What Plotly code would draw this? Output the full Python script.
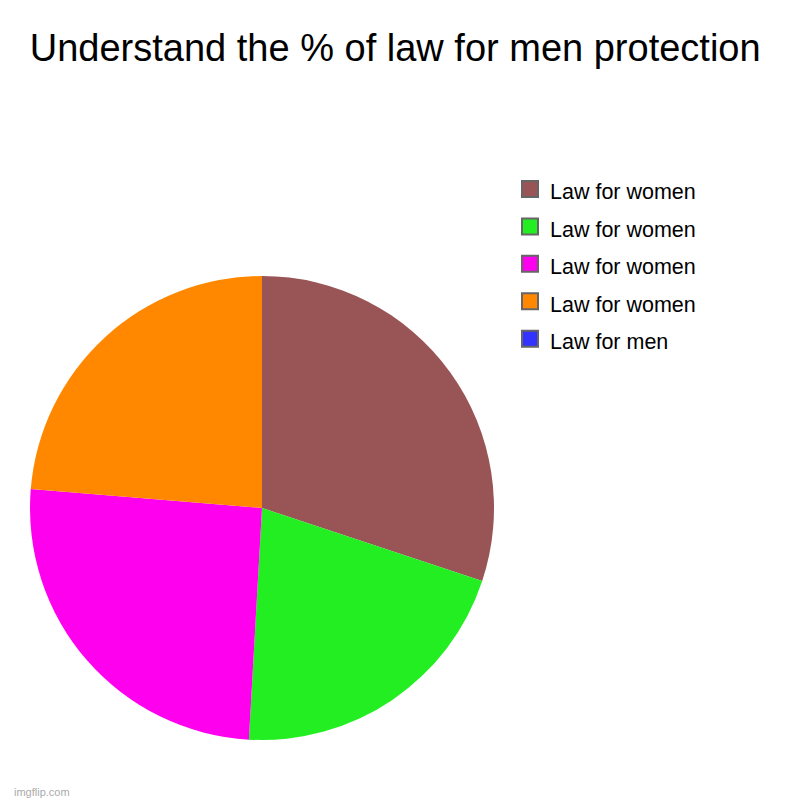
import plotly.graph_objects as go

title = "Understand the % of law for men protection"
names = ["Law for women", "Law for women", "Law for women", "Law for women", "Law for men"]
values = [30.1, 20.8, 25.4, 23.7, 0]
colors = ["#995555", "#22ee22", "#ff00ee", "#ff8800", "#3333ff"]

# pie labels need to be unique, so add invisible zero-width spaces
pie_labels = [n + "\u200b" * i for i, n in enumerate(names)]

fig = go.Figure()
fig.add_trace(go.Pie(
    labels=pie_labels,
    values=values,
    sort=False,
    direction="clockwise",
    rotation=0,
    textinfo="none",
    hoverinfo="label+percent",
    showlegend=False,
    marker=dict(colors=colors, line=dict(width=0)),
    domain=dict(x=[22/800, 486/800], y=[68/800, 532/800]),
))

# legend entries with bordered square swatches
for n, c in zip(names, colors):
    fig.add_trace(go.Scatter(
        x=[None], y=[None], mode="markers", name="<span style='font-size:21.5px'>%s</span>" % n,
        marker=dict(symbol="square", size=22, color=c, line=dict(color="#666666", width=2)),
        hoverinfo="skip",
    ))

fig.update_layout(
    width=800, height=800,
    margin=dict(l=0, r=0, t=0, b=0),
    paper_bgcolor="white", plot_bgcolor="white",
    font=dict(family="Arial, Liberation Sans", color="black"),
    xaxis=dict(visible=False), yaxis=dict(visible=False),
    title=dict(text=title, x=0.484, xanchor="center", y=0.951, yanchor="middle",
               font=dict(size=38, color="black")),
    legend=dict(x=0.6275, y=0.8035, xanchor="left", yanchor="top",
                font=dict(size=26.5, color="black"), traceorder="normal"),
    annotations=[dict(text="imgflip.com", x=0.005, y=0.02, xref="paper", yref="paper",
                      xanchor="left", yanchor="middle", showarrow=False,
                      font=dict(size=11, color="#aaaaaa"))],
)

fig.write_html("out.html")
